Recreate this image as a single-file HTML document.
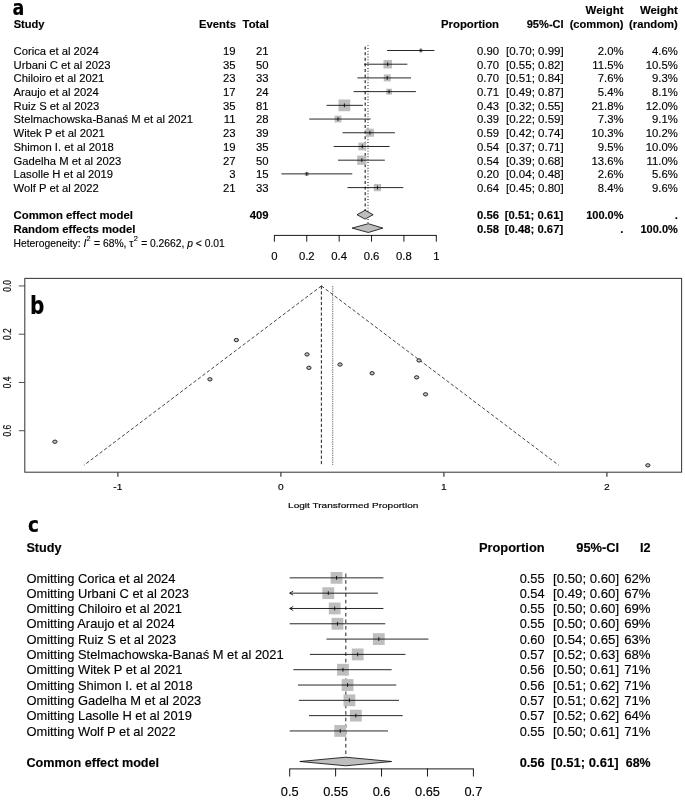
<!DOCTYPE html>
<html><head><meta charset="utf-8"><title>Figure</title>
<style>
html,body{margin:0;padding:0;background:#fff;}
svg{display:block;font-family:"Liberation Sans",sans-serif;fill:#000;}
svg text{fill:#000;stroke:#000;stroke-width:0.14px;}
svg .lbl{font-family:"DejaVu Sans Condensed","DejaVu Sans","Liberation Sans",sans-serif;}
</style></head><body>
<svg width="685" height="800" viewBox="0 0 685 800">
<rect width="685" height="800" fill="#fff"/>
<text class="lbl" transform="translate(12.5 15.15) scale(0.9 1)" font-size="21.6" font-weight="bold">a</text>
<text x="13.70" y="27.60" font-size="11.1" font-weight="bold">Study</text>
<text x="236.00" y="27.60" font-size="11.26" font-weight="bold" text-anchor="end">Events</text>
<text x="242.50" y="27.60" font-size="11.26" font-weight="bold" textLength="26.4" lengthAdjust="spacing">Total</text>
<text x="499.00" y="27.60" font-size="11.35" font-weight="bold" text-anchor="end">Proportion</text>
<text x="563.70" y="27.60" font-size="11.1" font-weight="bold" text-anchor="end">95%-CI</text>
<text x="623.50" y="13.70" font-size="11.45" font-weight="bold" text-anchor="end">Weight</text>
<text x="623.50" y="27.60" font-size="11.15" font-weight="bold" text-anchor="end">(common)</text>
<text x="677.80" y="13.70" font-size="11.45" font-weight="bold" text-anchor="end">Weight</text>
<text x="677.80" y="27.60" font-size="11.26" font-weight="bold" text-anchor="end">(random)</text>
<line x1="365.16" y1="46.60" x2="365.16" y2="214.70" stroke="#000" stroke-width="1.0" stroke-dasharray="3 2.6"/>
<line x1="368.00" y1="45.20" x2="368.00" y2="228.10" stroke="#333" stroke-width="1.2" stroke-dasharray="0.9 1.95"/>
<text x="13.60" y="54.90" font-size="11.26">Corica et al 2024</text>
<text x="235.60" y="54.90" font-size="11.3" text-anchor="end">19</text>
<text x="268.60" y="54.90" font-size="11.3" text-anchor="end">21</text>
<text x="499.00" y="54.90" font-size="11.3" text-anchor="end">0.90</text>
<text x="563.70" y="54.90" font-size="11.54" text-anchor="end">[0.70; 0.99]</text>
<text x="623.50" y="54.90" font-size="11.3" text-anchor="end">2.0%</text>
<text x="677.80" y="54.90" font-size="11.3" text-anchor="end">4.6%</text>
<rect x="419.10" y="48.72" width="3.56" height="3.56" fill="#bebebe"/>
<line x1="387.12" y1="50.50" x2="434.40" y2="50.50" stroke="#000" stroke-width="0.85"/>
<line x1="420.88" y1="48.60" x2="420.88" y2="52.40" stroke="#000" stroke-width="0.85"/>
<text x="13.60" y="68.61" font-size="11.26">Urbani C et al 2023</text>
<text x="235.60" y="68.61" font-size="11.3" text-anchor="end">35</text>
<text x="268.60" y="68.61" font-size="11.3" text-anchor="end">50</text>
<text x="499.00" y="68.61" font-size="11.3" text-anchor="end">0.70</text>
<text x="563.70" y="68.61" font-size="11.54" text-anchor="end">[0.55; 0.82]</text>
<text x="623.50" y="68.61" font-size="11.3" text-anchor="end">11.5%</text>
<text x="677.80" y="68.61" font-size="11.3" text-anchor="end">10.5%</text>
<rect x="383.46" y="59.94" width="8.55" height="8.55" fill="#bebebe"/>
<line x1="364.08" y1="64.21" x2="407.38" y2="64.21" stroke="#000" stroke-width="0.85"/>
<line x1="387.73" y1="62.31" x2="387.73" y2="66.11" stroke="#000" stroke-width="0.85"/>
<text x="13.60" y="82.32" font-size="11.26">Chiloiro et al 2021</text>
<text x="235.60" y="82.32" font-size="11.3" text-anchor="end">23</text>
<text x="268.60" y="82.32" font-size="11.3" text-anchor="end">33</text>
<text x="499.00" y="82.32" font-size="11.3" text-anchor="end">0.70</text>
<text x="563.70" y="82.32" font-size="11.54" text-anchor="end">[0.51; 0.84]</text>
<text x="623.50" y="82.32" font-size="11.3" text-anchor="end">7.6%</text>
<text x="677.80" y="82.32" font-size="11.3" text-anchor="end">9.3%</text>
<rect x="383.77" y="74.45" width="6.95" height="6.95" fill="#bebebe"/>
<line x1="357.44" y1="77.92" x2="411.06" y2="77.92" stroke="#000" stroke-width="0.85"/>
<line x1="387.24" y1="76.02" x2="387.24" y2="79.82" stroke="#000" stroke-width="0.85"/>
<text x="13.60" y="96.03" font-size="11.26">Araujo et al 2024</text>
<text x="235.60" y="96.03" font-size="11.3" text-anchor="end">17</text>
<text x="268.60" y="96.03" font-size="11.3" text-anchor="end">24</text>
<text x="499.00" y="96.03" font-size="11.3" text-anchor="end">0.71</text>
<text x="563.70" y="96.03" font-size="11.54" text-anchor="end">[0.49; 0.87]</text>
<text x="623.50" y="96.03" font-size="11.3" text-anchor="end">5.4%</text>
<text x="677.80" y="96.03" font-size="11.3" text-anchor="end">8.1%</text>
<rect x="386.15" y="88.70" width="5.86" height="5.86" fill="#bebebe"/>
<line x1="353.58" y1="91.63" x2="415.88" y2="91.63" stroke="#000" stroke-width="0.85"/>
<line x1="389.08" y1="89.73" x2="389.08" y2="93.53" stroke="#000" stroke-width="0.85"/>
<text x="13.60" y="109.74" font-size="11.26">Ruiz S et al 2023</text>
<text x="235.60" y="109.74" font-size="11.3" text-anchor="end">35</text>
<text x="268.60" y="109.74" font-size="11.3" text-anchor="end">81</text>
<text x="499.00" y="109.74" font-size="11.3" text-anchor="end">0.43</text>
<text x="563.70" y="109.74" font-size="11.54" text-anchor="end">[0.32; 0.55]</text>
<text x="623.50" y="109.74" font-size="11.3" text-anchor="end">21.8%</text>
<text x="677.80" y="109.74" font-size="11.3" text-anchor="end">12.0%</text>
<rect x="338.47" y="99.46" width="11.77" height="11.77" fill="#bebebe"/>
<line x1="326.60" y1="105.34" x2="362.94" y2="105.34" stroke="#000" stroke-width="0.85"/>
<line x1="344.36" y1="103.44" x2="344.36" y2="107.24" stroke="#000" stroke-width="0.85"/>
<text x="13.60" y="123.45" font-size="11.26">Stelmachowska-Banaś M et al 2021</text>
<text x="235.60" y="123.45" font-size="11.3" text-anchor="end">11</text>
<text x="268.60" y="123.45" font-size="11.3" text-anchor="end">28</text>
<text x="499.00" y="123.45" font-size="11.3" text-anchor="end">0.39</text>
<text x="563.70" y="123.45" font-size="11.54" text-anchor="end">[0.22; 0.59]</text>
<text x="623.50" y="123.45" font-size="11.3" text-anchor="end">7.3%</text>
<text x="677.80" y="123.45" font-size="11.3" text-anchor="end">9.1%</text>
<rect x="334.60" y="115.65" width="6.81" height="6.81" fill="#bebebe"/>
<line x1="309.22" y1="119.05" x2="370.61" y2="119.05" stroke="#000" stroke-width="0.85"/>
<line x1="338.00" y1="117.15" x2="338.00" y2="120.95" stroke="#000" stroke-width="0.85"/>
<text x="13.60" y="137.16" font-size="11.26">Witek P et al 2021</text>
<text x="235.60" y="137.16" font-size="11.3" text-anchor="end">23</text>
<text x="268.60" y="137.16" font-size="11.3" text-anchor="end">39</text>
<text x="499.00" y="137.16" font-size="11.3" text-anchor="end">0.59</text>
<text x="563.70" y="137.16" font-size="11.54" text-anchor="end">[0.42; 0.74]</text>
<text x="623.50" y="137.16" font-size="11.3" text-anchor="end">10.3%</text>
<text x="677.80" y="137.16" font-size="11.3" text-anchor="end">10.2%</text>
<rect x="365.84" y="128.72" width="8.09" height="8.09" fill="#bebebe"/>
<line x1="342.56" y1="132.76" x2="394.91" y2="132.76" stroke="#000" stroke-width="0.85"/>
<line x1="369.88" y1="130.86" x2="369.88" y2="134.66" stroke="#000" stroke-width="0.85"/>
<text x="13.60" y="150.87" font-size="11.26">Shimon I. et al 2018</text>
<text x="235.60" y="150.87" font-size="11.3" text-anchor="end">19</text>
<text x="268.60" y="150.87" font-size="11.3" text-anchor="end">35</text>
<text x="499.00" y="150.87" font-size="11.3" text-anchor="end">0.54</text>
<text x="563.70" y="150.87" font-size="11.54" text-anchor="end">[0.37; 0.71]</text>
<text x="623.50" y="150.87" font-size="11.3" text-anchor="end">9.5%</text>
<text x="677.80" y="150.87" font-size="11.3" text-anchor="end">10.0%</text>
<rect x="358.40" y="142.59" width="7.77" height="7.77" fill="#bebebe"/>
<line x1="333.73" y1="146.47" x2="389.63" y2="146.47" stroke="#000" stroke-width="0.85"/>
<line x1="362.29" y1="144.57" x2="362.29" y2="148.37" stroke="#000" stroke-width="0.85"/>
<text x="13.60" y="164.58" font-size="11.26">Gadelha M et al 2023</text>
<text x="235.60" y="164.58" font-size="11.3" text-anchor="end">27</text>
<text x="268.60" y="164.58" font-size="11.3" text-anchor="end">50</text>
<text x="499.00" y="164.58" font-size="11.3" text-anchor="end">0.54</text>
<text x="563.70" y="164.58" font-size="11.54" text-anchor="end">[0.39; 0.68]</text>
<text x="623.50" y="164.58" font-size="11.3" text-anchor="end">13.6%</text>
<text x="677.80" y="164.58" font-size="11.3" text-anchor="end">11.0%</text>
<rect x="357.18" y="155.53" width="9.29" height="9.29" fill="#bebebe"/>
<line x1="338.07" y1="160.18" x2="384.79" y2="160.18" stroke="#000" stroke-width="0.85"/>
<line x1="361.83" y1="158.28" x2="361.83" y2="162.08" stroke="#000" stroke-width="0.85"/>
<text x="13.60" y="178.29" font-size="11.26">Lasolle H et al 2019</text>
<text x="235.60" y="178.29" font-size="11.3" text-anchor="end">3</text>
<text x="268.60" y="178.29" font-size="11.3" text-anchor="end">15</text>
<text x="499.00" y="178.29" font-size="11.3" text-anchor="end">0.20</text>
<text x="563.70" y="178.29" font-size="11.54" text-anchor="end">[0.04; 0.48]</text>
<text x="623.50" y="178.29" font-size="11.3" text-anchor="end">2.6%</text>
<text x="677.80" y="178.29" font-size="11.3" text-anchor="end">5.6%</text>
<rect x="304.75" y="171.86" width="4.06" height="4.06" fill="#bebebe"/>
<line x1="281.41" y1="173.89" x2="352.26" y2="173.89" stroke="#000" stroke-width="0.85"/>
<line x1="306.78" y1="171.99" x2="306.78" y2="175.79" stroke="#000" stroke-width="0.85"/>
<text x="13.60" y="192.00" font-size="11.26">Wolf P et al 2022</text>
<text x="235.60" y="192.00" font-size="11.3" text-anchor="end">21</text>
<text x="268.60" y="192.00" font-size="11.3" text-anchor="end">33</text>
<text x="499.00" y="192.00" font-size="11.3" text-anchor="end">0.64</text>
<text x="563.70" y="192.00" font-size="11.54" text-anchor="end">[0.45; 0.80]</text>
<text x="623.50" y="192.00" font-size="11.3" text-anchor="end">8.4%</text>
<text x="677.80" y="192.00" font-size="11.3" text-anchor="end">9.6%</text>
<rect x="373.78" y="183.95" width="7.30" height="7.30" fill="#bebebe"/>
<line x1="347.46" y1="187.60" x2="403.27" y2="187.60" stroke="#000" stroke-width="0.85"/>
<line x1="377.43" y1="185.70" x2="377.43" y2="189.50" stroke="#000" stroke-width="0.85"/>
<text x="13.60" y="219.32" font-size="11.37" font-weight="bold">Common effect model</text>
<text x="268.60" y="219.32" font-size="11.3" font-weight="bold" text-anchor="end">409</text>
<text x="13.60" y="232.63" font-size="11.37" font-weight="bold">Random effects model</text>
<text x="499.00" y="219.32" font-size="11.3" font-weight="bold" text-anchor="end">0.56</text>
<text x="563.20" y="219.32" font-size="11.3" font-weight="bold" text-anchor="end">[0.51; 0.61]</text>
<text x="623.50" y="219.32" font-size="11.0" font-weight="bold" text-anchor="end">100.0%</text>
<text x="677.80" y="219.32" font-size="11.3" font-weight="bold" text-anchor="end">.</text>
<text x="499.00" y="232.63" font-size="11.3" font-weight="bold" text-anchor="end">0.58</text>
<text x="563.20" y="232.63" font-size="11.3" font-weight="bold" text-anchor="end">[0.48; 0.67]</text>
<text x="623.50" y="232.63" font-size="11.3" font-weight="bold" text-anchor="end">.</text>
<text x="677.80" y="232.63" font-size="11.0" font-weight="bold" text-anchor="end">100.0%</text>
<polygon points="356.97,214.70 365.06,210.30 373.16,214.70 365.06,219.10" fill="#bebebe" stroke="#000" stroke-width="0.8"/>
<polygon points="352.11,228.10 368.30,223.70 382.87,228.10 368.30,232.50" fill="#bebebe" stroke="#000" stroke-width="0.8"/>
<text x="13.6" y="246.85" font-size="10.3">Heterogeneity: <tspan font-style="italic">I</tspan><tspan dy="-5.5" dx="0.3" font-size="7.4">2</tspan><tspan dy="5.5" dx="0.5"> = 68%, τ</tspan><tspan dy="-5.5" dx="0.3" font-size="7.4">2</tspan><tspan dy="5.5" dx="0.5"> = 0.2662, </tspan><tspan font-style="italic">p</tspan> &lt; 0.01</text>
<line x1="274.40" y1="235.40" x2="436.30" y2="235.40" stroke="#000" stroke-width="0.9"/>
<line x1="274.40" y1="235.00" x2="274.40" y2="241.70" stroke="#000" stroke-width="0.9"/>
<text x="274.40" y="259.60" font-size="11.3" text-anchor="middle">0</text>
<line x1="306.78" y1="235.00" x2="306.78" y2="241.70" stroke="#000" stroke-width="0.9"/>
<text x="306.78" y="259.60" font-size="11.3" text-anchor="middle">0.2</text>
<line x1="339.16" y1="235.00" x2="339.16" y2="241.70" stroke="#000" stroke-width="0.9"/>
<text x="339.16" y="259.60" font-size="11.3" text-anchor="middle">0.4</text>
<line x1="371.54" y1="235.00" x2="371.54" y2="241.70" stroke="#000" stroke-width="0.9"/>
<text x="371.54" y="259.60" font-size="11.3" text-anchor="middle">0.6</text>
<line x1="403.92" y1="235.00" x2="403.92" y2="241.70" stroke="#000" stroke-width="0.9"/>
<text x="403.92" y="259.60" font-size="11.3" text-anchor="middle">0.8</text>
<line x1="436.30" y1="235.00" x2="436.30" y2="241.70" stroke="#000" stroke-width="0.9"/>
<text x="436.30" y="259.60" font-size="11.3" text-anchor="middle">1</text>
<rect x="24.8" y="278.4" width="656.80" height="193.80" fill="none" stroke="#3a3a3a" stroke-width="1.05"/>
<text class="lbl" transform="translate(29.9 313.6) scale(0.93 1)" font-size="24" font-weight="bold">b</text>
<line x1="117.90" y1="472.20" x2="117.90" y2="476.80" stroke="#3a3a3a" stroke-width="1.2"/>
<text transform="translate(117.90 489.9) scale(1.2 1)" font-size="8.5" text-anchor="middle" stroke="#000" stroke-width="0.15">-1</text>
<line x1="280.90" y1="472.20" x2="280.90" y2="476.80" stroke="#3a3a3a" stroke-width="1.2"/>
<text transform="translate(280.90 489.9) scale(1.2 1)" font-size="8.5" text-anchor="middle" stroke="#000" stroke-width="0.15">0</text>
<line x1="443.90" y1="472.20" x2="443.90" y2="476.80" stroke="#3a3a3a" stroke-width="1.2"/>
<text transform="translate(443.90 489.9) scale(1.2 1)" font-size="8.5" text-anchor="middle" stroke="#000" stroke-width="0.15">1</text>
<line x1="606.90" y1="472.20" x2="606.90" y2="476.80" stroke="#3a3a3a" stroke-width="1.2"/>
<text transform="translate(606.90 489.9) scale(1.2 1)" font-size="8.5" text-anchor="middle" stroke="#000" stroke-width="0.15">2</text>
<line x1="18.80" y1="285.95" x2="24.80" y2="285.95" stroke="#3a3a3a" stroke-width="0.9"/>
<text transform="translate(10.55 285.95) scale(1.2 1) rotate(-90)" font-size="8.4" text-anchor="middle" stroke="#000" stroke-width="0.15">0.0</text>
<line x1="18.80" y1="334.21" x2="24.80" y2="334.21" stroke="#3a3a3a" stroke-width="0.9"/>
<text transform="translate(10.55 334.21) scale(1.2 1) rotate(-90)" font-size="8.4" text-anchor="middle" stroke="#000" stroke-width="0.15">0.2</text>
<line x1="18.80" y1="382.47" x2="24.80" y2="382.47" stroke="#3a3a3a" stroke-width="0.9"/>
<text transform="translate(10.55 382.47) scale(1.2 1) rotate(-90)" font-size="8.4" text-anchor="middle" stroke="#000" stroke-width="0.15">0.4</text>
<line x1="18.80" y1="430.73" x2="24.80" y2="430.73" stroke="#3a3a3a" stroke-width="0.9"/>
<text transform="translate(10.55 430.73) scale(1.2 1) rotate(-90)" font-size="8.4" text-anchor="middle" stroke="#000" stroke-width="0.15">0.6</text>
<text transform="translate(353.2 507.6) scale(1.38 1)" font-size="7.3" text-anchor="middle" stroke="#000" stroke-width="0.12">Logit Transformed Proportion</text>
<line x1="321.36" y1="285.95" x2="321.36" y2="465.33" stroke="#222" stroke-width="1.0" stroke-dasharray="3.3 2"/>
<line x1="332.73" y1="285.95" x2="332.73" y2="465.33" stroke="#444" stroke-width="1.0" stroke-dasharray="0.8 1.0"/>
<line x1="321.36" y1="285.95" x2="83.86" y2="465.33" stroke="#222" stroke-width="0.85" stroke-dasharray="3.4 2.2"/>
<line x1="321.36" y1="285.95" x2="558.86" y2="465.33" stroke="#222" stroke-width="0.85" stroke-dasharray="3.4 2.2"/>
<ellipse cx="647.86" cy="465.33" rx="2.15" ry="1.65" fill="#c4c4c4" stroke="#1a1a1a" stroke-width="0.95"/>
<ellipse cx="419.01" cy="360.42" rx="2.15" ry="1.65" fill="#c4c4c4" stroke="#1a1a1a" stroke-width="0.95"/>
<ellipse cx="416.66" cy="377.35" rx="2.15" ry="1.65" fill="#c4c4c4" stroke="#1a1a1a" stroke-width="0.95"/>
<ellipse cx="425.53" cy="394.32" rx="2.15" ry="1.65" fill="#c4c4c4" stroke="#1a1a1a" stroke-width="0.95"/>
<ellipse cx="236.35" cy="340.07" rx="2.15" ry="1.65" fill="#c4c4c4" stroke="#1a1a1a" stroke-width="0.95"/>
<ellipse cx="209.94" cy="379.32" rx="2.15" ry="1.65" fill="#c4c4c4" stroke="#1a1a1a" stroke-width="0.95"/>
<ellipse cx="340.05" cy="364.50" rx="2.15" ry="1.65" fill="#c4c4c4" stroke="#1a1a1a" stroke-width="0.95"/>
<ellipse cx="308.91" cy="367.83" rx="2.15" ry="1.65" fill="#c4c4c4" stroke="#1a1a1a" stroke-width="0.95"/>
<ellipse cx="307.04" cy="354.42" rx="2.15" ry="1.65" fill="#c4c4c4" stroke="#1a1a1a" stroke-width="0.95"/>
<ellipse cx="54.93" cy="441.71" rx="2.15" ry="1.65" fill="#c4c4c4" stroke="#1a1a1a" stroke-width="0.95"/>
<ellipse cx="372.12" cy="373.27" rx="2.15" ry="1.65" fill="#c4c4c4" stroke="#1a1a1a" stroke-width="0.95"/>
<text class="lbl" transform="translate(28.1 531.6) scale(0.95 1)" font-size="21.6" font-weight="bold">c</text>
<text x="26.40" y="552.40" font-size="12.65" font-weight="bold">Study</text>
<text x="544.60" y="552.40" font-size="12.85" font-weight="bold" text-anchor="end">Proportion</text>
<text x="619.10" y="552.40" font-size="12.85" font-weight="bold" text-anchor="end">95%-CI</text>
<text x="650.60" y="552.40" font-size="12.65" font-weight="bold" text-anchor="end">I2</text>
<line x1="345.83" y1="573.60" x2="345.83" y2="761.50" stroke="#222" stroke-width="1.0" stroke-dasharray="3.6 2.95"/>
<text x="26.40" y="582.50" font-size="12.9">Omitting Corica et al 2024</text>
<text x="544.60" y="582.50" font-size="12.8" text-anchor="end">0.55</text>
<text x="619.10" y="582.50" font-size="13.2" text-anchor="end">[0.50; 0.60]</text>
<text x="650.60" y="582.50" font-size="13.2" text-anchor="end">62%</text>
<rect x="330.64" y="571.95" width="11.80" height="11.80" fill="#bebebe"/>
<line x1="289.70" y1="577.85" x2="383.39" y2="577.85" stroke="#000" stroke-width="0.85"/>
<line x1="336.54" y1="575.95" x2="336.54" y2="579.75" stroke="#000" stroke-width="0.85"/>
<text x="26.40" y="597.81" font-size="12.9">Omitting Urbani C et al 2023</text>
<text x="544.60" y="597.81" font-size="12.8" text-anchor="end">0.54</text>
<text x="619.10" y="597.81" font-size="13.2" text-anchor="end">[0.49; 0.60]</text>
<text x="650.60" y="597.81" font-size="13.2" text-anchor="end">67%</text>
<rect x="322.38" y="587.26" width="11.80" height="11.80" fill="#bebebe"/>
<line x1="289.70" y1="593.16" x2="377.88" y2="593.16" stroke="#000" stroke-width="0.85"/>
<polyline points="293.20,591.16 289.70,593.16 293.20,595.16" fill="none" stroke="#000" stroke-width="0.8"/>
<line x1="328.28" y1="591.26" x2="328.28" y2="595.06" stroke="#000" stroke-width="0.85"/>
<text x="26.40" y="613.12" font-size="12.9">Omitting Chiloiro et al 2021</text>
<text x="544.60" y="613.12" font-size="12.8" text-anchor="end">0.55</text>
<text x="619.10" y="613.12" font-size="13.2" text-anchor="end">[0.50; 0.60]</text>
<text x="650.60" y="613.12" font-size="13.2" text-anchor="end">69%</text>
<rect x="328.81" y="602.57" width="11.80" height="11.80" fill="#bebebe"/>
<line x1="289.70" y1="608.47" x2="383.39" y2="608.47" stroke="#000" stroke-width="0.85"/>
<polyline points="293.20,606.47 289.70,608.47 293.20,610.47" fill="none" stroke="#000" stroke-width="0.8"/>
<line x1="334.71" y1="606.57" x2="334.71" y2="610.37" stroke="#000" stroke-width="0.85"/>
<text x="26.40" y="628.43" font-size="12.9">Omitting Araujo et al 2024</text>
<text x="544.60" y="628.43" font-size="12.8" text-anchor="end">0.55</text>
<text x="619.10" y="628.43" font-size="13.2" text-anchor="end">[0.50; 0.60]</text>
<text x="650.60" y="628.43" font-size="13.2" text-anchor="end">69%</text>
<rect x="331.56" y="617.88" width="11.80" height="11.80" fill="#bebebe"/>
<line x1="289.70" y1="623.78" x2="385.22" y2="623.78" stroke="#000" stroke-width="0.85"/>
<line x1="337.46" y1="621.88" x2="337.46" y2="625.68" stroke="#000" stroke-width="0.85"/>
<text x="26.40" y="643.74" font-size="12.9">Omitting Ruiz S et al 2023</text>
<text x="544.60" y="643.74" font-size="12.8" text-anchor="end">0.60</text>
<text x="619.10" y="643.74" font-size="13.2" text-anchor="end">[0.54; 0.65]</text>
<text x="650.60" y="643.74" font-size="13.2" text-anchor="end">63%</text>
<rect x="372.89" y="633.19" width="11.80" height="11.80" fill="#bebebe"/>
<line x1="326.44" y1="639.09" x2="428.39" y2="639.09" stroke="#000" stroke-width="0.85"/>
<line x1="378.79" y1="637.19" x2="378.79" y2="640.99" stroke="#000" stroke-width="0.85"/>
<text x="26.40" y="659.05" font-size="12.9">Omitting Stelmachowska-Banaś M et al 2021</text>
<text x="544.60" y="659.05" font-size="12.8" text-anchor="end">0.57</text>
<text x="619.10" y="659.05" font-size="13.2" text-anchor="end">[0.52; 0.63]</text>
<text x="650.60" y="659.05" font-size="13.2" text-anchor="end">68%</text>
<rect x="351.77" y="648.50" width="11.80" height="11.80" fill="#bebebe"/>
<line x1="309.91" y1="654.40" x2="405.43" y2="654.40" stroke="#000" stroke-width="0.85"/>
<line x1="357.67" y1="652.50" x2="357.67" y2="656.30" stroke="#000" stroke-width="0.85"/>
<text x="26.40" y="674.36" font-size="12.9">Omitting Witek P et al 2021</text>
<text x="544.60" y="674.36" font-size="12.8" text-anchor="end">0.56</text>
<text x="619.10" y="674.36" font-size="13.2" text-anchor="end">[0.50; 0.61]</text>
<text x="650.60" y="674.36" font-size="13.2" text-anchor="end">71%</text>
<rect x="337.07" y="663.81" width="11.80" height="11.80" fill="#bebebe"/>
<line x1="293.37" y1="669.71" x2="391.65" y2="669.71" stroke="#000" stroke-width="0.85"/>
<line x1="342.97" y1="667.81" x2="342.97" y2="671.61" stroke="#000" stroke-width="0.85"/>
<text x="26.40" y="689.67" font-size="12.9">Omitting Shimon I. et al 2018</text>
<text x="544.60" y="689.67" font-size="12.8" text-anchor="end">0.56</text>
<text x="619.10" y="689.67" font-size="13.2" text-anchor="end">[0.51; 0.62]</text>
<text x="650.60" y="689.67" font-size="13.2" text-anchor="end">71%</text>
<rect x="341.67" y="679.12" width="11.80" height="11.80" fill="#bebebe"/>
<line x1="297.97" y1="685.02" x2="396.25" y2="685.02" stroke="#000" stroke-width="0.85"/>
<line x1="347.57" y1="683.12" x2="347.57" y2="686.92" stroke="#000" stroke-width="0.85"/>
<text x="26.40" y="704.98" font-size="12.9">Omitting Gadelha M et al 2023</text>
<text x="544.60" y="704.98" font-size="12.8" text-anchor="end">0.57</text>
<text x="619.10" y="704.98" font-size="13.2" text-anchor="end">[0.51; 0.62]</text>
<text x="650.60" y="704.98" font-size="13.2" text-anchor="end">71%</text>
<rect x="343.50" y="694.43" width="11.80" height="11.80" fill="#bebebe"/>
<line x1="298.88" y1="700.33" x2="399.00" y2="700.33" stroke="#000" stroke-width="0.85"/>
<line x1="349.40" y1="698.43" x2="349.40" y2="702.23" stroke="#000" stroke-width="0.85"/>
<text x="26.40" y="720.29" font-size="12.9">Omitting Lasolle H et al 2019</text>
<text x="544.60" y="720.29" font-size="12.8" text-anchor="end">0.57</text>
<text x="619.10" y="720.29" font-size="13.2" text-anchor="end">[0.52; 0.62]</text>
<text x="650.60" y="720.29" font-size="13.2" text-anchor="end">64%</text>
<rect x="349.93" y="709.74" width="11.80" height="11.80" fill="#bebebe"/>
<line x1="308.99" y1="715.64" x2="402.68" y2="715.64" stroke="#000" stroke-width="0.85"/>
<line x1="355.83" y1="713.74" x2="355.83" y2="717.54" stroke="#000" stroke-width="0.85"/>
<text x="26.40" y="735.60" font-size="12.9">Omitting Wolf P et al 2022</text>
<text x="544.60" y="735.60" font-size="12.8" text-anchor="end">0.55</text>
<text x="619.10" y="735.60" font-size="13.2" text-anchor="end">[0.50; 0.61]</text>
<text x="650.60" y="735.60" font-size="13.2" text-anchor="end">71%</text>
<rect x="334.32" y="725.05" width="11.80" height="11.80" fill="#bebebe"/>
<line x1="289.70" y1="730.95" x2="387.98" y2="730.95" stroke="#000" stroke-width="0.85"/>
<line x1="340.22" y1="729.05" x2="340.22" y2="732.85" stroke="#000" stroke-width="0.85"/>
<text x="26.40" y="767.00" font-size="12.65" font-weight="bold">Common effect model</text>
<text x="544.60" y="767.00" font-size="12.8" font-weight="bold" text-anchor="end">0.56</text>
<text x="618.50" y="767.00" font-size="13.05" font-weight="bold" text-anchor="end">[0.51; 0.61]</text>
<text x="650.60" y="767.00" font-size="12.4" font-weight="bold" text-anchor="end">68%</text>
<polygon points="299.80,761.50 345.73,757.20 391.65,761.50 345.73,765.80" fill="#bebebe" stroke="#000" stroke-width="0.8"/>
<line x1="289.70" y1="768.90" x2="473.40" y2="768.90" stroke="#000" stroke-width="0.9"/>
<line x1="289.70" y1="768.50" x2="289.70" y2="776.50" stroke="#000" stroke-width="0.9"/>
<text x="289.70" y="796.20" font-size="12.8" text-anchor="middle">0.5</text>
<line x1="335.62" y1="768.50" x2="335.62" y2="776.50" stroke="#000" stroke-width="0.9"/>
<text x="335.62" y="796.20" font-size="12.8" text-anchor="middle">0.55</text>
<line x1="381.55" y1="768.50" x2="381.55" y2="776.50" stroke="#000" stroke-width="0.9"/>
<text x="381.55" y="796.20" font-size="12.8" text-anchor="middle">0.6</text>
<line x1="427.48" y1="768.50" x2="427.48" y2="776.50" stroke="#000" stroke-width="0.9"/>
<text x="427.48" y="796.20" font-size="12.8" text-anchor="middle">0.65</text>
<line x1="473.40" y1="768.50" x2="473.40" y2="776.50" stroke="#000" stroke-width="0.9"/>
<text x="473.40" y="796.20" font-size="12.8" text-anchor="middle">0.7</text>
</svg>
</body></html>
